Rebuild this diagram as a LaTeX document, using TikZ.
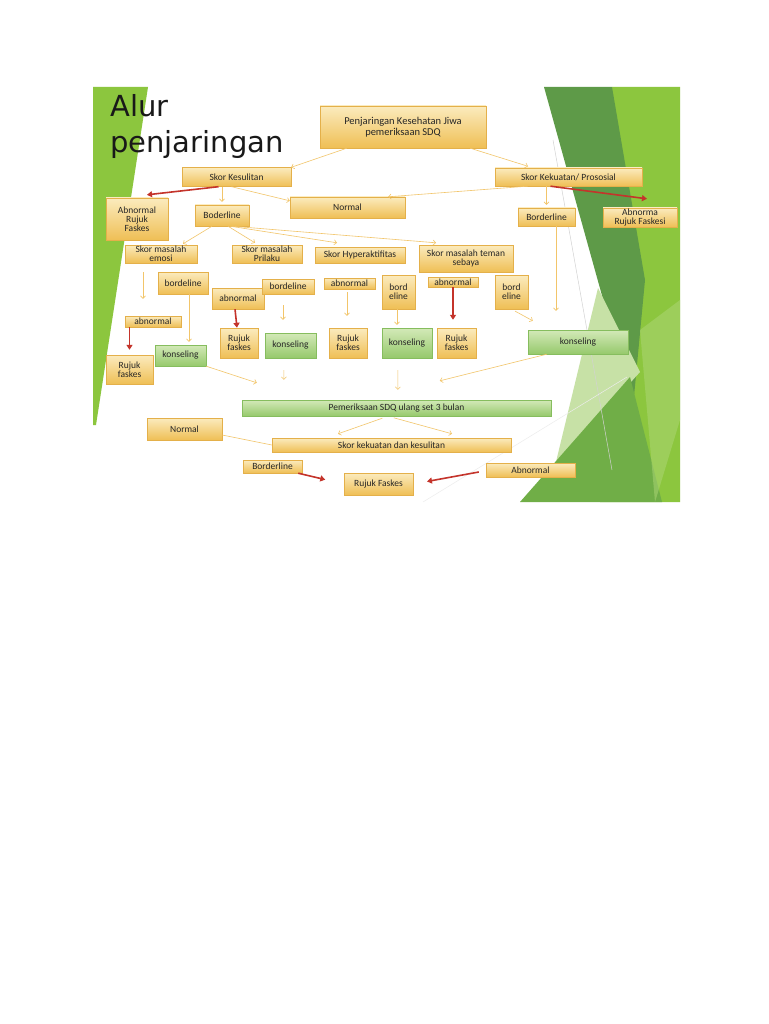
\documentclass[tikz,border=0pt]{standalone}
\usepackage{fontspec}
\setmainfont{Carlito}
\newfontfamily\titlefont{DejaVu Sans}
\usetikzlibrary{arrows.meta}
\definecolor{boxtop}{HTML}{FBEBBE}
\definecolor{boxbot}{HTML}{EFBF55}
\definecolor{boxline}{HTML}{E4B04A}
\definecolor{gtop}{HTML}{D3E9B8}
\definecolor{gbot}{HTML}{96C96C}
\definecolor{gline}{HTML}{86BD5E}
\definecolor{linkyellow}{HTML}{F2C56A}
\definecolor{linkred}{HTML}{C4342B}
\definecolor{lime}{HTML}{8CC63E}
\definecolor{darkleaf}{HTML}{5E9A48}
\definecolor{midleaf}{HTML}{70AE47}
\definecolor{paleleaf}{HTML}{C7E1A6}
\definecolor{textgray}{HTML}{262626}
\begin{document}
\begin{tikzpicture}[x=1pt,y=-1pt,
box/.style={draw=boxline,top color=boxtop,bottom color=boxbot,inner xsep=1pt,inner ysep=0.5pt,align=center,
  text=textgray,font=\fontsize{9.5}{9}\selectfont},
gbox/.style={box,draw=gline,top color=gtop,bottom color=gbot},
ylink/.style={draw=linkyellow,line width=0.6pt,-{Straight Barb[length=2.5pt,width=5pt]}},
rlink/.style={draw=linkred,line width=1.6pt,-{Triangle[length=5pt,width=6pt]}}]
\useasboundingbox[fill=white] (0,0) rectangle (768,1024);
% slide decoration
\fill[lime] (93,87) -- (148,87) -- (96,425) -- (93,425) -- cycle;
\fill[lime] (612,87) -- (680,87) -- (680,502) -- (600,502) -- cycle;
\fill[darkleaf] (544,87) -- (612,87) -- (645,280) -- (633,407) -- cycle;
\fill[paleleaf] (598,288) -- (640,372) -- (555,466) -- cycle;
\fill[midleaf] (520,502) -- (630,377) -- (662,502) -- cycle;
\fill[lime!70!white,opacity=0.5] (640,330) -- (680,300) -- (680,420) -- (655,502) -- cycle;
\draw[gray!35,line width=0.5pt] (553,140) -- (612,470);
\draw[white!85!gray,line width=0.5pt] (423,502) -- (627,377);
% title
\node[anchor=base west,align=left,inner sep=0pt,text=black!90,
  font=\titlefont\fontsize{29}{36}\selectfont] (title) at (110,153) {Alur\\penjaringan};
% boxes
\node[box,minimum width=166,minimum height=42,font=\fontsize{10.5}{11}\selectfont] (top) at (403,127) {Penjaringan Kesehatan Jiwa\\pemeriksaan SDQ};
\node[box,minimum width=109,minimum height=19] (kesulitan) at (236.5,177) {Skor Kesulitan};
\node[box,minimum width=147,minimum height=18] (kekuatan) at (568.5,177) {Skor Kekuatan/ Prososial};
\node[box,minimum width=62,minimum height=42] (abnA) at (137,219) {Abnormal\\Rujuk\\Faskes};
\node[box,minimum width=54,minimum height=21] (boderline) at (222,215.5) {Boderline};
\node[box,minimum width=115,minimum height=21] (normalA) at (347.5,207.5) {Normal};
\node[box,minimum width=57,minimum height=18] (borderR) at (546.5,217) {Borderline};
\node[box,minimum width=74,minimum height=19] (abnR) at (640,217.5) {Abnorma\\Rujuk Faskesi};
\node[box,minimum width=72,minimum height=18] (emosi) at (161,254) {Skor masalah\\emosi};
\node[box,minimum width=70,minimum height=18] (prilaku) at (267,254) {Skor masalah\\Prilaku};
\node[box,minimum width=90,minimum height=16] (hyper) at (360,255) {Skor Hyperaktifitas};
\node[box,minimum width=94,minimum height=27] (teman) at (466,258.5) {Skor masalah teman\\sebaya};
\node[box,minimum width=50,minimum height=22] (bordA) at (183,283) {bordeline};
\node[box,minimum width=52,minimum height=21] (abnB) at (238,298.5) {abnormal};
\node[box,minimum width=52,minimum height=15] (bordB) at (288,286.5) {bordeline};
\node[box,minimum width=51,minimum height=11] (abnC) at (349.5,283.5) {abnormal};
\node[box,minimum width=33,minimum height=34] (bordC) at (398.5,292) {bord\\eline};
\node[box,minimum width=50,minimum height=10] (abnD) at (453,282) {abnormal};
\node[box,minimum width=33,minimum height=34] (bordD) at (511.5,292) {bord\\eline};
\node[box,minimum width=56,minimum height=11] (abnE) at (153,321.5) {abnormal};
\node[box,minimum width=47,minimum height=29] (rujukA) at (129.5,369.5) {Rujuk\\faskes};
\node[gbox,minimum width=51,minimum height=21] (konsA) at (180.5,355.5) {konseling};
\node[box,minimum width=38,minimum height=30] (rujukB) at (239,343) {Rujuk\\faskes};
\node[gbox,minimum width=51,minimum height=25] (konsB) at (290.5,345.5) {konseling};
\node[box,minimum width=38,minimum height=30] (rujukC) at (348,343) {Rujuk\\faskes};
\node[gbox,minimum width=50,minimum height=30] (konsC) at (407,343) {konseling};
\node[box,minimum width=39,minimum height=30] (rujukD) at (456.5,343) {Rujuk\\faskes};
\node[gbox,minimum width=100,minimum height=24] (konsD) at (578,342) {konseling};
\node[gbox,minimum width=309,minimum height=16] (ulang) at (396.5,408) {Pemeriksaan SDQ ulang set 3 bulan};
\node[box,minimum width=75,minimum height=22] (normalB) at (184.5,429) {Normal};
\node[box,minimum width=239,minimum height=14] (skorKK) at (391.5,445) {Skor kekuatan dan kesulitan};
\node[box,minimum width=59,minimum height=13] (bordE) at (272.5,466.5) {Borderline};
\node[box,minimum width=69,minimum height=22] (rujukE) at (378.5,484) {Rujuk Faskes};
\node[box,minimum width=89,minimum height=14] (abnF) at (530.5,470) {Abnormal};
% yellow links
\draw[ylink] ([xshift=27]top.south west) -- (kesulitan.north east);
\draw[ylink,shorten >=5pt] ([xshift=-16]top.south east) -- ([xshift=38]kekuatan.north west);
\draw[ylink,shorten >=3pt] (boderline.north |- kesulitan.south) -- (boderline.north);
\draw[ylink] ([xshift=-5]kesulitan.south) -- ([yshift=-4]normalA.north west);
\draw[ylink] ([xshift=-41]kekuatan.south) -- ([xshift=-17]normalA.north east);
\draw[ylink,shorten >=3pt] (borderR.north |- kekuatan.south) -- (borderR.north);
\draw[ylink] ([xshift=-10]boderline.south) -- ([xshift=22,yshift=1]emosi.north);
\draw[ylink] ([xshift=6]boderline.south) -- ([xshift=-12,yshift=2]prilaku.north);
\draw[ylink] ([xshift=8]boderline.south) -- ([xshift=-23,yshift=4]hyper.north);
\draw[ylink] ([xshift=10]boderline.south) -- ([xshift=-30,yshift=2]teman.north);
\draw[ylink,shorten <=9pt,shorten >=17pt] ([xshift=-18]emosi.south) -- ([xshift=-10]abnE.north);
\draw[ylink] ([xshift=6]bordA.south) -- ([xshift=8.5,yshift=3]konsA.north);
\draw[ylink,shorten <=11pt,shorten >=13pt] ([xshift=-5]bordB.south) -- ([xshift=-7.5]konsB.north);
\draw[ylink,shorten <=3pt,shorten >=12pt] ([xshift=-2.5]abnC.south) -- ([xshift=-1]rujukC.north);
\draw[ylink] ([xshift=-1.5]bordC.south) -- ([xshift=-10,yshift=3]konsC.north);
\draw[ylink,shorten <=4pt] (bordD.south) -- ([xshift=5,yshift=9]konsD.north west);
\draw[ylink,shorten >=19pt] ([xshift=9.5]borderR.south) -- ([xshift=-22]konsD.north);
\draw[ylink] (konsA.south east) -- ([xshift=15,yshift=17]ulang.north west);
\draw[ylink,shorten <=12pt,shorten >=20pt] ([xshift=-6.5]konsB.south) -- ([xshift=42]ulang.north west);
\draw[ylink,shorten <=12pt,shorten >=10pt] ([xshift=-9]konsC.south) -- ([xshift=156]ulang.north west);
\draw[ylink] ([xshift=19]konsD.south west) -- ([xshift=198,yshift=19]ulang.north west);
\draw[ylink,shorten <=6pt] ([xshift=-8.5]ulang.south) -- ([xshift=-53.5,yshift=4]skorKK.north);
\draw[ylink,shorten <=6pt] ([xshift=-8.5]ulang.south) -- ([xshift=60.5,yshift=4]skorKK.north);
\draw[draw=linkyellow,line width=0.6pt] ([yshift=-6]normalB.east) -- (skorKK.west);
% red links
\draw[rlink] ([xshift=-18]kesulitan.south) -- ([xshift=10,yshift=3]abnA.north);
\draw[rlink] ([xshift=-18]kekuatan.south) -- ([xshift=7,yshift=9]abnR.north);
\draw[rlink,shorten >=5pt] (rujukA.north |- abnE.south) -- (rujukA.north);
\draw[rlink] ([xshift=-3]abnB.south) -- ([xshift=-2]rujukB.north);
\draw[rlink,shorten >=8pt] (abnD.south) -- ([xshift=-3.5]rujukD.north);
\draw[rlink,shorten >=19pt] ([xshift=-4]bordE.south east) -- (rujukE.west);
\draw[rlink,shorten >=14pt] ([xshift=-7,yshift=-2]abnF.west) -- (rujukE.east);
\end{tikzpicture}
\end{document}
